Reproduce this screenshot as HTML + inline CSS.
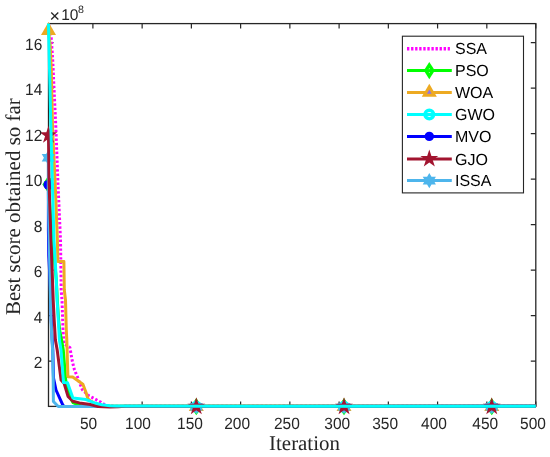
<!DOCTYPE html>
<html><head><meta charset="utf-8"><style>html,body{margin:0;padding:0;background:#fff;}svg{display:block;text-rendering:geometricPrecision;}</style></head><body>
<svg width="550" height="457" viewBox="0 0 550 457">
<rect x="0" y="0" width="550" height="457" fill="#fff"/>
<path d="M48.5,361.10h5M535.8,361.10h-5M48.5,315.60h5M535.8,315.60h-5M48.5,270.10h5M535.8,270.10h-5M48.5,224.60h5M535.8,224.60h-5M48.5,179.10h5M535.8,179.10h-5M48.5,133.60h5M535.8,133.60h-5M48.5,88.10h5M535.8,88.10h-5M48.5,42.60h5M535.8,42.60h-5M92.90,406.4v-5M92.90,23.6v5M142.14,406.4v-5M142.14,23.6v5M191.38,406.4v-5M191.38,23.6v5M240.62,406.4v-5M240.62,23.6v5M289.86,406.4v-5M289.86,23.6v5M339.10,406.4v-5M339.10,23.6v5M388.34,406.4v-5M388.34,23.6v5M437.58,406.4v-5M437.58,23.6v5M486.82,406.4v-5M486.82,23.6v5M535.80,406.4v-5M535.80,23.6v5" stroke="#262626" stroke-width="1.2" fill="none"/>
<rect x="48.5" y="23.6" width="487.29999999999995" height="382.79999999999995" fill="none" stroke="#262626" stroke-width="1.3"/>
<g>
<polyline points="48.60,24.50 49.60,30.00 51.10,36.00 52.70,60.00 53.80,84.00 55.70,124.00 58.00,184.00 60.50,240.00 61.20,290.00 62.00,300.00 63.00,330.00 64.10,344.00 69.90,347.50 71.00,354.00 72.50,362.00 74.50,370.00 77.50,377.00 80.00,384.00 82.50,390.00 89.20,396.00 93.60,398.20 97.20,400.20 101.10,402.30 104.00,404.30 108.00,406.00 125.00,406.30 535.80,406.20" fill="none" stroke="#FF00FF" stroke-width="3.0" stroke-linejoin="round" stroke-dasharray="2.4 2.0" stroke-width="3.0"/>
<polyline points="48.30,184.40 50.50,215.00 53.20,245.00 56.30,280.00 57.30,300.00 58.60,320.00 59.60,330.00 61.60,340.00 63.30,350.00 65.70,380.00 67.00,386.00 70.00,397.00 73.00,402.50 80.00,405.50 95.00,406.30 535.80,406.20" fill="none" stroke="#00FF00" stroke-width="3.0" stroke-linejoin="round" />
<polygon points="48.30,175.80 54.20,184.40 48.30,193.00 42.40,184.40" fill="#00FF00"/>
<polyline points="48.50,30.70 50.20,45.00 51.30,70.00 51.90,100.00 52.60,130.00 55.20,184.00 57.40,240.00 57.80,261.50 63.90,261.50 64.30,290.00 65.50,300.00 66.30,330.00 66.80,340.00 67.70,370.00 67.90,376.80 72.70,377.00 82.90,384.20 86.20,393.00 87.60,397.80 88.50,399.50 98.00,405.60 110.00,406.30 535.80,406.20" fill="none" stroke="#EDAA22" stroke-width="3.0" stroke-linejoin="round" />
<polygon points="48.50,22.03 56.00,35.03 41.00,35.03" fill="#EDAA22"/>
<polygon points="196.30,398.03 203.80,411.03 188.80,411.03" fill="#EDAA22"/>
<polygon points="196.30,398.10 202.20,406.70 196.30,415.30 190.40,406.70" fill="#00FF00"/>
<circle cx="196.304" cy="406.7" r="4.9" fill="#0000FF"/>
<circle cx="196.304" cy="406.7" r="4.2" fill="none" stroke="#00FFFF" stroke-width="3.6"/>
<polygon points="196.30,399.10 198.50,402.90 202.89,402.90 200.69,406.70 202.89,410.50 198.50,410.50 196.30,414.30 194.11,410.50 189.72,410.50 191.92,406.70 189.72,402.90 194.11,402.90" fill="#4DB5EC"/>
<polygon points="196.30,397.30 198.41,403.79 205.24,403.80 199.72,407.81 201.83,414.30 196.30,410.29 190.78,414.30 192.89,407.81 187.36,403.80 194.19,403.79" fill="#A2142F"/>
<polygon points="344.02,398.03 351.52,411.03 336.52,411.03" fill="#EDAA22"/>
<polygon points="344.02,398.10 349.92,406.70 344.02,415.30 338.12,406.70" fill="#00FF00"/>
<circle cx="344.024" cy="406.7" r="4.9" fill="#0000FF"/>
<circle cx="344.024" cy="406.7" r="4.2" fill="none" stroke="#00FFFF" stroke-width="3.6"/>
<polygon points="344.02,399.10 346.22,402.90 350.61,402.90 348.41,406.70 350.61,410.50 346.22,410.50 344.02,414.30 341.83,410.50 337.44,410.50 339.64,406.70 337.44,402.90 341.83,402.90" fill="#4DB5EC"/>
<polygon points="344.02,397.30 346.13,403.79 352.96,403.80 347.44,407.81 349.55,414.30 344.02,410.29 338.50,414.30 340.61,407.81 335.08,403.80 341.91,403.79" fill="#A2142F"/>
<polygon points="491.74,398.03 499.24,411.03 484.24,411.03" fill="#EDAA22"/>
<polygon points="491.74,398.10 497.64,406.70 491.74,415.30 485.84,406.70" fill="#00FF00"/>
<circle cx="491.744" cy="406.7" r="4.9" fill="#0000FF"/>
<circle cx="491.744" cy="406.7" r="4.2" fill="none" stroke="#00FFFF" stroke-width="3.6"/>
<polygon points="491.74,399.10 493.94,402.90 498.33,402.90 496.13,406.70 498.33,410.50 493.94,410.50 491.74,414.30 489.55,410.50 485.16,410.50 487.36,406.70 485.16,402.90 489.55,402.90" fill="#4DB5EC"/>
<polygon points="491.74,397.30 493.85,403.79 500.68,403.80 495.16,407.81 497.27,414.30 491.74,410.29 486.22,414.30 488.33,407.81 482.80,403.80 489.63,403.79" fill="#A2142F"/>
<polyline points="48.40,184.80 48.40,200.00 48.40,230.00 48.80,256.00 50.00,280.00 50.80,300.00 51.30,320.00 52.20,340.00 52.80,350.00 53.50,378.00 56.00,390.00 62.40,404.20 64.00,406.50 535.80,406.20" fill="none" stroke="#0000FF" stroke-width="3.0" stroke-linejoin="round" />
<circle cx="48.4" cy="184.8" r="4.9" fill="#0000FF"/>
<polygon points="48.30,150.10 50.49,153.90 54.88,153.90 52.69,157.70 54.88,161.50 50.49,161.50 48.30,165.30 46.11,161.50 41.72,161.50 43.91,157.70 41.72,153.90 46.11,153.90" fill="#4DB5EC"/>
<polyline points="48.30,157.70 48.30,190.00 48.80,220.00 49.40,250.00 50.00,275.00 50.30,290.00 50.50,300.00 51.00,320.00 51.90,340.00 52.60,350.00 53.20,380.00 53.40,401.50 58.30,406.50 60.00,406.60 535.80,406.20" fill="none" stroke="#4DB5EC" stroke-width="3.0" stroke-linejoin="round" />
<polygon points="48.50,125.70 50.61,132.19 57.44,132.20 51.92,136.21 54.03,142.70 48.50,138.69 42.97,142.70 45.08,136.21 39.56,132.20 46.39,132.19" fill="#A2142F"/>
<polyline points="48.50,135.10 48.90,170.00 49.10,184.00 51.00,240.00 52.50,280.00 53.20,300.00 54.20,320.00 55.40,340.00 57.20,350.00 61.10,380.00 64.20,383.60 68.00,396.40 72.90,401.30 79.40,402.90 90.40,404.50 98.00,406.60 110.00,407.00 118.00,406.80 125.00,406.30 535.80,406.20" fill="none" stroke="#A2142F" stroke-width="3.0" stroke-linejoin="round" />
<polyline points="48.50,23.60 48.70,36.00 49.90,84.00 50.80,124.00 52.40,184.00 54.00,240.00 56.30,280.00 57.10,300.00 58.30,320.00 59.40,340.00 61.00,350.00 63.30,380.00 63.50,382.60 67.50,382.70 72.90,398.00 86.00,399.60 90.00,401.20 94.00,402.60 98.00,403.80 102.00,404.70 106.00,405.30 110.00,405.70 116.00,406.00 124.00,406.10 535.80,406.20" fill="none" stroke="#00FFFF" stroke-width="3.0" stroke-linejoin="round" />
</g>
<g font-family="Liberation Sans, Arial, sans-serif" font-size="15.5" fill="#262626"><text transform="translate(42.3,368.00) scale(1,1.05)" text-anchor="end">2</text><text transform="translate(42.3,322.50) scale(1,1.05)" text-anchor="end">4</text><text transform="translate(42.3,277.00) scale(1,1.05)" text-anchor="end">6</text><text transform="translate(42.3,231.50) scale(1,1.05)" text-anchor="end">8</text><text transform="translate(42.3,186.00) scale(1,1.05)" text-anchor="end">10</text><text transform="translate(42.3,140.50) scale(1,1.05)" text-anchor="end">12</text><text transform="translate(42.3,95.00) scale(1,1.05)" text-anchor="end">14</text><text transform="translate(42.3,49.50) scale(1,1.05)" text-anchor="end">16</text><text transform="translate(88.6,429.0) scale(1,1.05)" text-anchor="middle">50</text><text transform="translate(138.0,429.0) scale(1,1.05)" text-anchor="middle">100</text><text transform="translate(190.0,429.0) scale(1,1.05)" text-anchor="middle">150</text><text transform="translate(237.1,429.0) scale(1,1.05)" text-anchor="middle">200</text><text transform="translate(286.9,429.0) scale(1,1.05)" text-anchor="middle">250</text><text transform="translate(337.3,429.0) scale(1,1.05)" text-anchor="middle">300</text><text transform="translate(385.1,429.0) scale(1,1.05)" text-anchor="middle">350</text><text transform="translate(434.0,429.0) scale(1,1.05)" text-anchor="middle">400</text><text transform="translate(485.3,429.0) scale(1,1.05)" text-anchor="middle">450</text><text transform="translate(533.0,429.0) scale(1,1.05)" text-anchor="middle">500</text></g>
<g font-family="Liberation Sans, Arial, sans-serif" fill="#262626"><text transform="translate(49.4,22.2)" font-size="18">×</text><text transform="translate(61.2,20.2)" font-size="15.5">10</text><text transform="translate(77.9,12.8)" font-size="10.6">8</text></g>
<text x="304.5" y="450" text-anchor="middle" font-family="Liberation Serif, Times New Roman, serif" font-size="20.9" fill="#262626">Iteration</text>
<text transform="translate(19.8,206.6) rotate(-90)" text-anchor="middle" font-family="Liberation Serif, Times New Roman, serif" font-size="21" fill="#262626">Best score obtained so far</text>
<rect x="402.4" y="36.2" width="121.10000000000002" height="156.7" fill="#fff" stroke="#262626" stroke-width="1.1"/>
<line x1="407" y1="48.7" x2="449.9" y2="48.7" stroke="#FF00FF" stroke-width="3.6" stroke-dasharray="2.35 1.72"/>
<text x="455" y="54.4" font-family="Liberation Sans, Arial, sans-serif" font-size="16" fill="#000">SSA</text>
<line x1="407" y1="70.6" x2="451.8" y2="70.6" stroke="#00FF00" stroke-width="3.0"/>
<polygon points="429.30,62.00 434.80,70.60 429.30,79.20 423.80,70.60" fill="#00FF00"/><polygon points="429.30,68.00 430.60,70.60 429.30,73.20 428.00,70.60" fill="#fff"/><line x1="427.3" y1="70.6" x2="431.3" y2="70.6" stroke="#00FF00" stroke-width="3.0"/>
<text x="455" y="76.3" font-family="Liberation Sans, Arial, sans-serif" font-size="16" fill="#000">PSO</text>
<line x1="407" y1="92.4" x2="451.8" y2="92.4" stroke="#EDAA22" stroke-width="3.0"/>
<polygon points="429.30,83.73 436.80,96.73 421.80,96.73" fill="#EDAA22"/><polygon points="429.30,89.60 431.60,93.80 427.00,93.80" fill="#8E72EE"/>
<text x="455" y="98.1" font-family="Liberation Sans, Arial, sans-serif" font-size="16" fill="#000">WOA</text>
<line x1="407" y1="114.5" x2="451.8" y2="114.5" stroke="#00FFFF" stroke-width="3.0"/>
<circle cx="429.3" cy="114.5" r="4.2" fill="none" stroke="#00FFFF" stroke-width="3.6"/>
<text x="455" y="120.2" font-family="Liberation Sans, Arial, sans-serif" font-size="16" fill="#000">GWO</text>
<line x1="407" y1="136.4" x2="451.8" y2="136.4" stroke="#0000FF" stroke-width="3.0"/>
<circle cx="429.3" cy="136.4" r="4.7" fill="#0000FF"/>
<text x="455" y="142.1" font-family="Liberation Sans, Arial, sans-serif" font-size="16" fill="#000">MVO</text>
<line x1="407" y1="158.9" x2="451.8" y2="158.9" stroke="#A2142F" stroke-width="3.0"/>
<polygon points="429.30,149.50 431.41,155.99 438.24,156.00 432.72,160.01 434.83,166.50 429.30,162.49 423.77,166.50 425.88,160.01 420.36,156.00 427.19,155.99" fill="#A2142F"/>
<text x="455" y="164.6" font-family="Liberation Sans, Arial, sans-serif" font-size="16" fill="#000">GJO</text>
<line x1="407" y1="180.6" x2="451.8" y2="180.6" stroke="#4DB5EC" stroke-width="3.0"/>
<polygon points="429.30,173.00 431.49,176.80 435.88,176.80 433.69,180.60 435.88,184.40 431.49,184.40 429.30,188.20 427.11,184.40 422.72,184.40 424.91,180.60 422.72,176.80 427.11,176.80" fill="#4DB5EC"/>
<text x="455" y="186.3" font-family="Liberation Sans, Arial, sans-serif" font-size="16" fill="#000">ISSA</text>
</svg>
</body></html>
